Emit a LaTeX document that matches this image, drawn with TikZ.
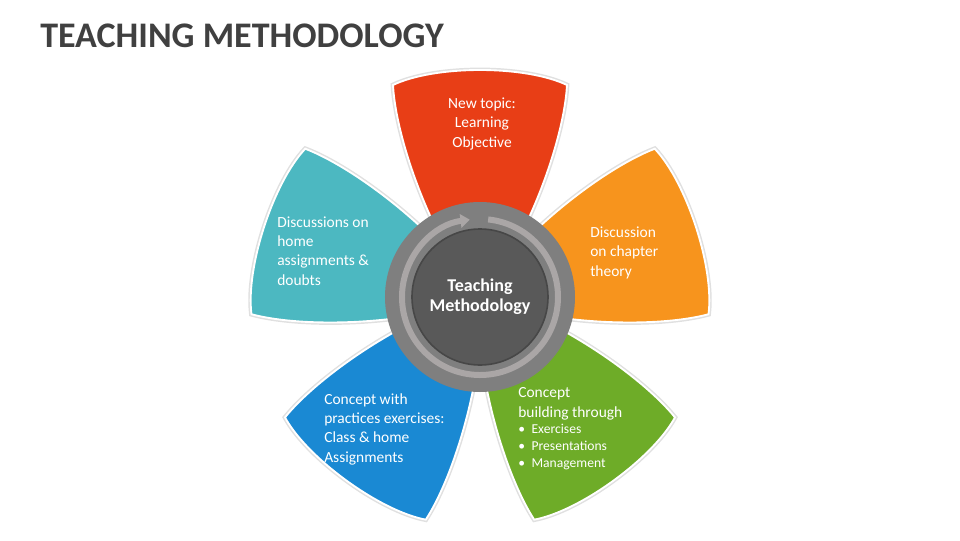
\documentclass[tikz,border=0pt]{standalone}
\usepackage{fontspec}
\setmainfont{Carlito}
\usetikzlibrary{arrows.meta}
\definecolor{petalred}{RGB}{232,62,22}
\definecolor{petalorange}{RGB}{247,148,29}
\definecolor{petalgreen}{RGB}{110,172,40}
\definecolor{petalblue}{RGB}{26,137,211}
\definecolor{petalteal}{RGB}{76,184,193}
\definecolor{ringgray}{RGB}{127,127,127}
\definecolor{arrowgray}{RGB}{170,166,166}
\definecolor{hubgray}{RGB}{89,89,89}
\definecolor{titlegray}{RGB}{64,64,64}
\tikzset{
  petal/.style={draw=white, line width=1.4pt,
                preaction={draw=black, draw opacity=0.12, line width=3.6pt}}, % soft halo
  petaltext/.style={text=white, font=\fontsize{11.6}{14.3}\selectfont, align=left, anchor=base west, inner sep=0pt},
  bullettext/.style={text=white, font=\fontsize{10.2}{12.75}\selectfont, align=left, anchor=base west, inner sep=0pt},
  hub/.style={circle, fill=hubgray, draw=black!72, line width=1.2pt, minimum size=102pt, inner sep=0pt,
              text=white, font=\fontsize{13.5}{15}\selectfont\bfseries, align=center},
  cycle/.style={draw=arrowgray, line width=4.5pt, -{Triangle[width=10pt,length=7pt]}},
}
\newcommand{\petalpath}{(0,0) .. controls (-45,50) and (-84,155) .. (-87,212)
  .. controls (-45,232) and (45,232) .. (87,212) .. controls (84,155) and (45,50) .. (0,0) -- cycle}
\begin{document}
\begin{tikzpicture}[x=0.75pt, y=0.75pt]
  \useasboundingbox[fill=white] (-480,-243) rectangle (480,297);

  % title
  \node[anchor=base west, inner sep=0pt, text=titlegray, font=\fontsize{27}{30}\selectfont\bfseries] (title) at (-440,250) {TEACHING METHODOLOGY};

  % five petals
  \foreach \ang/\col in {0/petalred, -72/petalorange, -144/petalgreen, 144/petalblue, 72/petalteal}
    \filldraw[petal, fill=\col, rotate=\ang] \petalpath;

  % hub
  \fill[ringgray] (0,0) circle[radius=95];
  \draw[cycle] (84:78) arc[start angle=84, end angle=-262.5, radius=78];
  \node[hub] (hub) at (0,0) {Teaching\\Methodology};

  % petal texts (base = last line)
  \node[petaltext, align=center, anchor=base] (topic) at (2,150) {New topic:\\Learning\\Objective};
  \node[petaltext] (theory) at (110,21) {Discussion\\on chapter\\theory};
  \node[petaltext] (building) at (38,-120) {Concept\\building through};
  \node[bullettext] (tools) at (38,-170) {\makebox[10pt][l]{•}Exercises\\\makebox[10pt][l]{•}Presentations\\\makebox[10pt][l]{•}Management};
  \node[petaltext] (practice) at (-156,-165) {Concept with\\practices exercises:\\Class \& home\\Assignments};
  \node[petaltext] (doubts) at (-203,12) {Discussions on\\home\\assignments \&\\doubts};
\end{tikzpicture}
\end{document}
